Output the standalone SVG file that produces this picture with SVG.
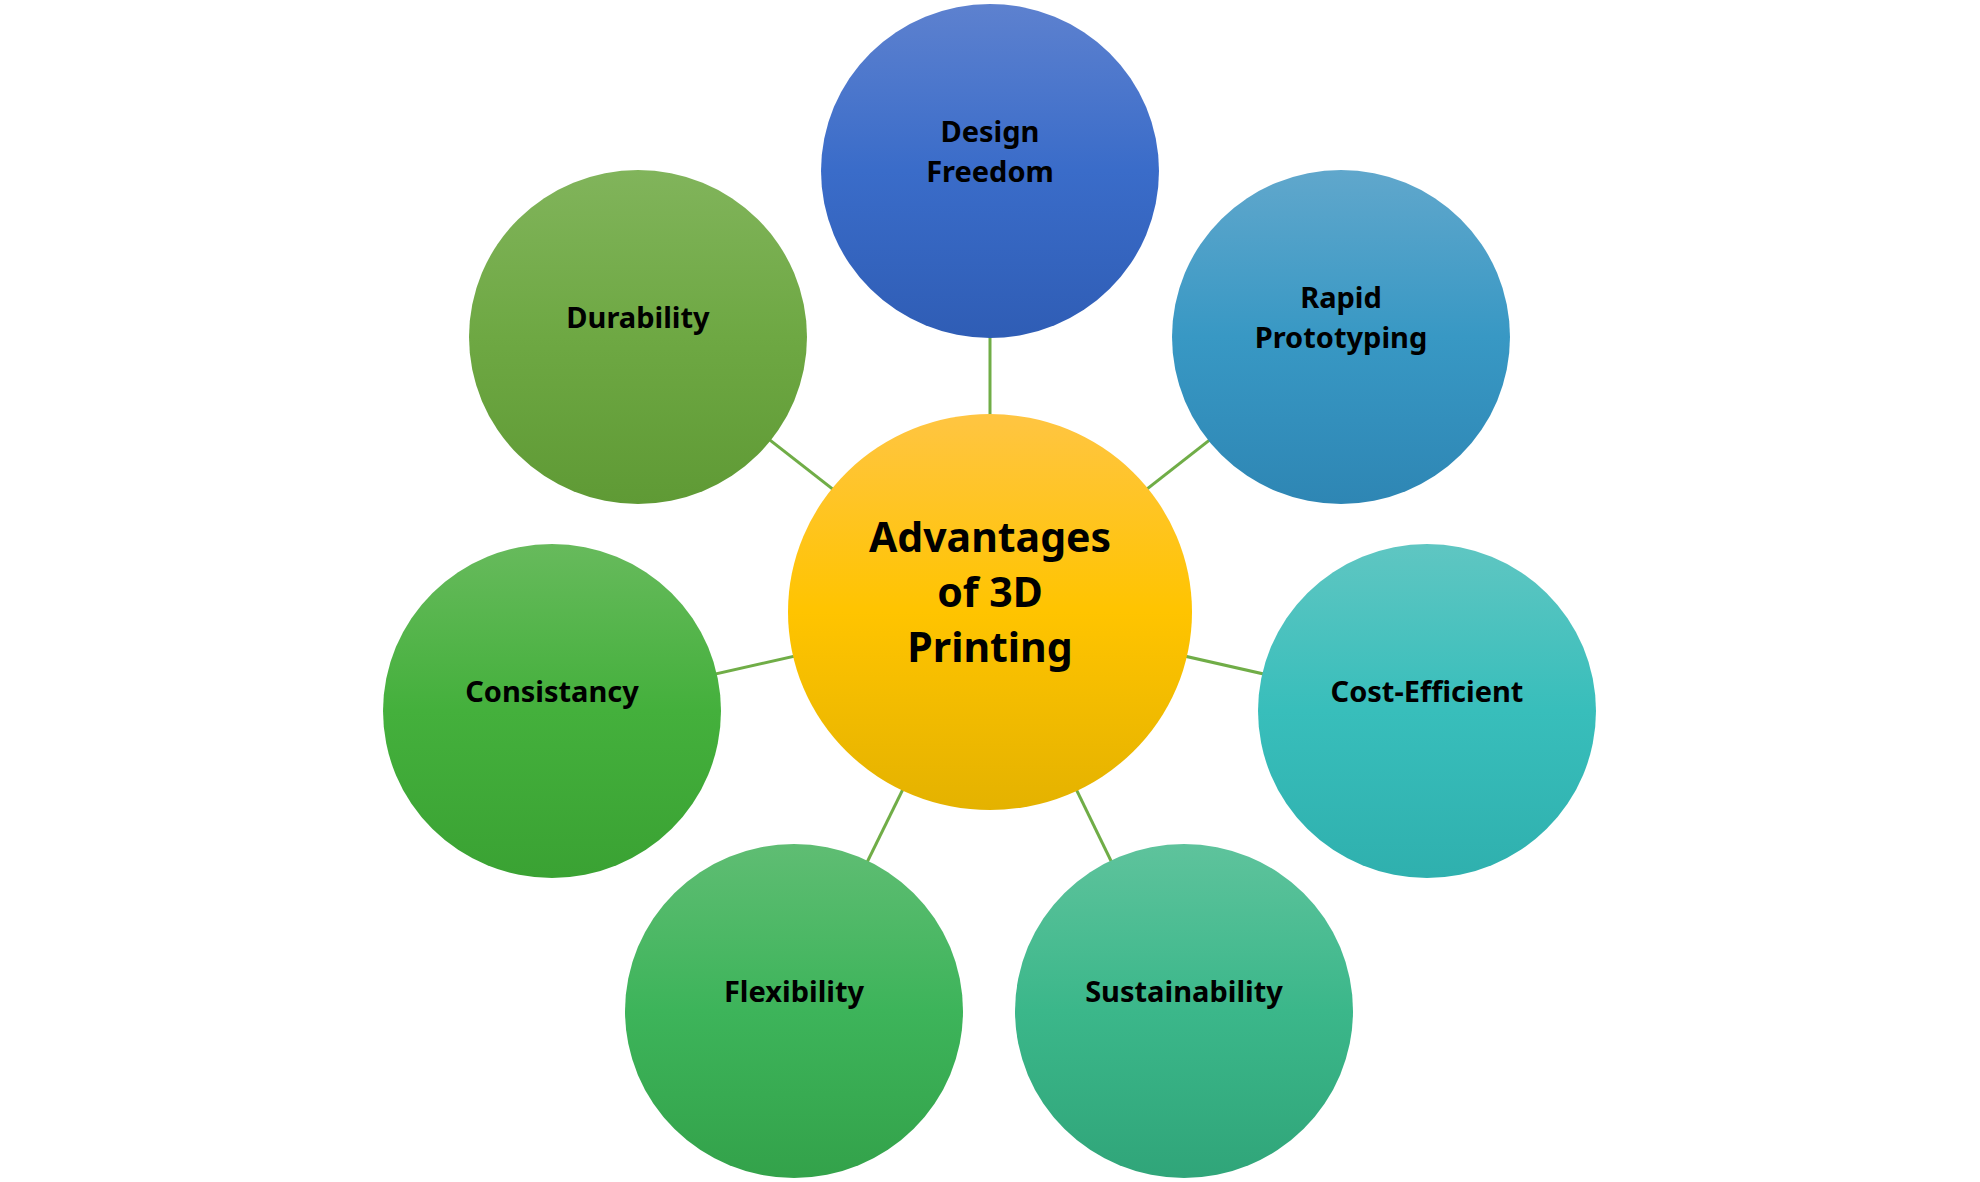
<svg xmlns="http://www.w3.org/2000/svg" width="1980" height="1182" viewBox="0 0 1980 1182">
<style>
.t{font-family:"Noto Sans","Open Sans","DejaVu Sans",sans-serif;font-weight:bold;fill:#000;text-anchor:middle}
.o{font-size:29px}
.c{font-size:41px}
.ln{stroke:#70ad47;stroke-width:3}
</style>
<defs>
<linearGradient id="gc" x1="0" y1="0" x2="0" y2="1"><stop offset="0" stop-color="#ffc542"/><stop offset="0.5" stop-color="#ffc400"/><stop offset="1" stop-color="#e4b200"/></linearGradient>
<linearGradient id="g1" x1="0" y1="0" x2="0" y2="1"><stop offset="0" stop-color="#5d81cf"/><stop offset="0.5" stop-color="#3a6cc9"/><stop offset="1" stop-color="#2f5db5"/></linearGradient>
<linearGradient id="g2" x1="0" y1="0" x2="0" y2="1"><stop offset="0" stop-color="#60a7cc"/><stop offset="0.5" stop-color="#3898c4"/><stop offset="1" stop-color="#2e86b4"/></linearGradient>
<linearGradient id="g3" x1="0" y1="0" x2="0" y2="1"><stop offset="0" stop-color="#5fc6c2"/><stop offset="0.5" stop-color="#38bebb"/><stop offset="1" stop-color="#2fb0ae"/></linearGradient>
<linearGradient id="g4" x1="0" y1="0" x2="0" y2="1"><stop offset="0" stop-color="#5ec39c"/><stop offset="0.5" stop-color="#3bb78a"/><stop offset="1" stop-color="#30a579"/></linearGradient>
<linearGradient id="g5" x1="0" y1="0" x2="0" y2="1"><stop offset="0" stop-color="#5fbd73"/><stop offset="0.5" stop-color="#3db45a"/><stop offset="1" stop-color="#33a24a"/></linearGradient>
<linearGradient id="g6" x1="0" y1="0" x2="0" y2="1"><stop offset="0" stop-color="#67ba5c"/><stop offset="0.5" stop-color="#44b03c"/><stop offset="1" stop-color="#3aa233"/></linearGradient>
<linearGradient id="g7" x1="0" y1="0" x2="0" y2="1"><stop offset="0" stop-color="#81b45b"/><stop offset="0.5" stop-color="#6ea843"/><stop offset="1" stop-color="#5f9a35"/></linearGradient>
</defs>
<rect width="1980" height="1182" fill="#fff"/>
<g id="connectors">
<line class="ln" x1="990" y1="612" x2="990" y2="171"/>
<line class="ln" x1="990" y1="612" x2="1341" y2="337"/>
<line class="ln" x1="990" y1="612" x2="638" y2="337"/>
<line class="ln" x1="990" y1="612" x2="1427" y2="711"/>
<line class="ln" x1="990" y1="612" x2="552" y2="711"/>
<line class="ln" x1="990" y1="612" x2="1184" y2="1011"/>
<line class="ln" x1="990" y1="612" x2="794" y2="1011"/>
</g>
<g id="design"><ellipse cx="990" cy="171" rx="169" ry="167" fill="url(#g1)"/><text class="t o" x="990" y="142">Design</text><text class="t o" x="990" y="182">Freedom</text></g>
<g id="rapid"><ellipse cx="1341" cy="337" rx="169" ry="167" fill="url(#g2)"/><text class="t o" x="1341" y="308">Rapid</text><text class="t o" x="1341" y="348">Prototyping</text></g>
<g id="durability"><ellipse cx="638" cy="337" rx="169" ry="167" fill="url(#g7)"/><text class="t o" x="638" y="328">Durability</text></g>
<g id="cost"><ellipse cx="1427" cy="711" rx="169" ry="167" fill="url(#g3)"/><text class="t o" x="1427" y="702">Cost-Efficient</text></g>
<g id="consistancy"><ellipse cx="552" cy="711" rx="169" ry="167" fill="url(#g6)"/><text class="t o" x="552" y="702">Consistancy</text></g>
<g id="sustainability"><ellipse cx="1184" cy="1011" rx="169" ry="167" fill="url(#g4)"/><text class="t o" x="1184" y="1002">Sustainability</text></g>
<g id="flexibility"><ellipse cx="794" cy="1011" rx="169" ry="167" fill="url(#g5)"/><text class="t o" x="794" y="1002">Flexibility</text></g>
<g id="center"><ellipse cx="990" cy="612" rx="202" ry="198" fill="url(#gc)"/><text class="t c" x="990" y="552">Advantages</text><text class="t c" x="990" y="607">of 3D</text><text class="t c" x="990" y="662">Printing</text></g>
</svg>
